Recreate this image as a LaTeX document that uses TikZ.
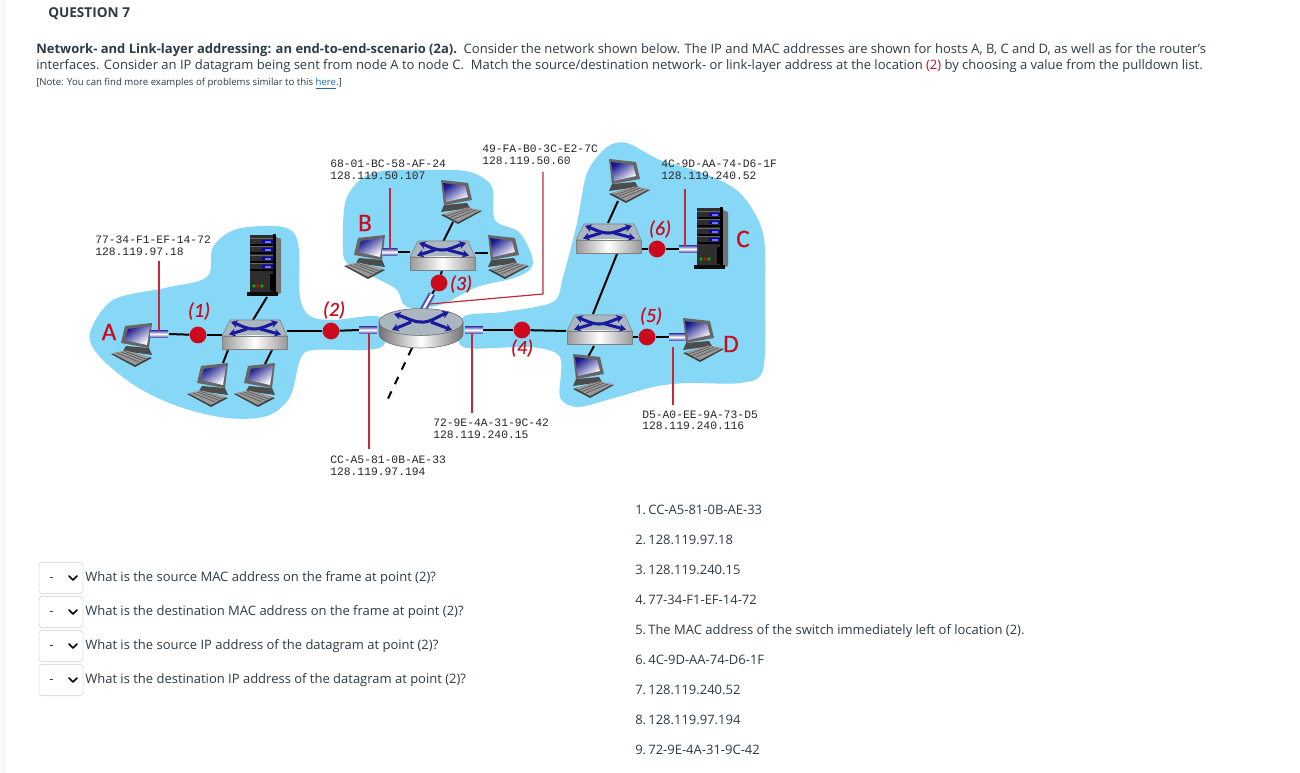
\documentclass[tikz,border=0pt]{standalone}
\usepackage{fontspec}
\setmainfont{Open Sans}
\setmonofont{Liberation Mono}
\newfontfamily\labfont[FakeBold=0.35]{Carlito}
\usetikzlibrary{arrows.meta,shapes.geometric}
\definecolor{blob}{HTML}{87D7F7}
\definecolor{netred}{HTML}{CC0A1E}
\definecolor{leadred}{HTML}{C4283C}
\definecolor{ink}{HTML}{2D3B45}
\definecolor{swblue}{HTML}{1A1A9C}
\definecolor{linkblue}{HTML}{1F6E9E}
\definecolor{swtop}{HTML}{AAB6C0}
\tikzset{
  x=0.75pt,y=-0.75pt,
  cloud/.style={fill=blob,draw=none},
  netdot/.style={circle,fill=netred,draw=none,minimum size=12.6pt,inner sep=0pt},
  link/.style={black,line width=1.5pt},
  dashlink/.style={black,line width=1.5pt,dash pattern=on 6pt off 6pt},
  leader/.style={leadred,line width=0.9pt},
  ifc/.style={draw=none,top color=swblue!75,bottom color=swblue!75,middle color=white,minimum width=13.5pt,minimum height=5pt,inner sep=0pt},
  addr/.style={anchor=base west,inner sep=0pt,font=\ttfamily\fontsize{8.5}{9}\selectfont,text=black!85},
  bigl/.style={text=netred,inner sep=0pt,font=\labfont\fontsize{19}{22}\selectfont},
  numl/.style={text=netred,inner sep=0pt,font=\labfont\itshape\fontsize{15}{18}\selectfont},
  body/.style={anchor=base west,inner sep=0pt,text=ink,font=\fontsize{9.75}{12}\selectfont},
  note/.style={anchor=base west,inner sep=0pt,text=ink,font=\fontsize{7.2}{9}\selectfont},
  selbox/.style={draw=black!12,line width=0.7pt,rounded corners=2.5pt,minimum width=33pt,minimum height=23.5pt,inner sep=0pt,fill=white},
  xarrows/.style={draw=swblue,line width=2.3pt,-{Stealth[length=5pt,width=6pt]}},
  pics/pcx/.style={code={
    \fill[black!70] (-7,2) -- (16,4) -- (19,11) -- (-10,7) -- cycle;
    \fill[black!75] (-22,10) -- (-6,7) -- (19,14) -- (2,23) -- cycle;
    \fill[black!40] (-21,9) -- (-7,6.5) -- (17,13) -- (2,21) -- cycle;
    \draw[black!70,line width=0.4pt] (-16,9) -- (6,18) (-12,8) -- (10,16.5) (-8,7.5) -- (13,15);
    \fill[black!60] (-8,-18) -- (19,-21) -- (16,4) -- (-12,-1) -- cycle;
    \shade[top color=swblue!90!black,bottom color=white,shading angle=35] (-5,-15) -- (17,-18) -- (14,1) -- (-8,-4) -- cycle;
  }},
  pics/swx/.style={code={
    \fill[swtop,draw=black!50,line width=0.4pt] (-24,-15) -- (26,-15) -- (33,1) -- (-32,1) -- cycle;
    \shade[left color=black!40,right color=black!40,middle color=white,draw=black!50,line width=0.4pt] (-32,1) rectangle (33,14);
    \draw[xarrows] (0,-6) .. controls (8,-6) and (14,-10) .. (24,-13);
    \draw[xarrows] (0,-6) .. controls (-8,-6) and (-14,-10) .. (-23,-13);
    \draw[xarrows] (-7,-6) -- (-25,-0.5);
    \draw[xarrows] (6,-6) -- (27,-0.5);
  }},
  pics/srv/.style={code={
    \fill[black!55] (12,-28) -- (17,-26) -- (17,28) -- (12,30) -- cycle;
    \fill[black!82] (-14,-30) rectangle (9,27);
    \fill[black] (9,-31) rectangle (12,29);
    \fill[black!95] (-17,27) rectangle (14,31);
    \foreach \yy in {-23,-15,-6,2}{
      \fill[black] (-14,\yy+2.5) rectangle (9,\yy+4.5);
      \fill[black!60] (-14,\yy-4) rectangle (9,\yy-2.5);
      \fill[blue!75!black] (-2,\yy-1.5) rectangle (9,\yy+1.5);
      \fill[blue!55!white] (1,\yy-1) rectangle (7,\yy+0.8);
    }
    \fill[black] (6,9) rectangle (8.5,26);
    \fill[green!70!black] (-10,21) circle (1.8);
    \fill[red!85!black] (-6,21) circle (1.8);
    \fill[green!70!black] (-2,21) circle (1.8);
  }},
  pics/rtr/.style={code={
    \shade[left color=black!55,right color=black!55,middle color=white,draw=black!60,line width=0.4pt] (-42,0) -- (-42,12) arc[start angle=180,end angle=0,x radius=42,y radius=14] -- (42,0) -- cycle;
    \fill[swtop,draw=black!60,line width=0.4pt] (0,0) ellipse[x radius=42,y radius=13.5];
    \draw[xarrows] (0,0) .. controls (8,1) and (16,-5) .. (28,-10);
    \draw[xarrows] (0,0) .. controls (-8,0) and (-16,-5) .. (-27,-8);
    \draw[xarrows] (-10,0) -- (-29,8);
    \draw[xarrows] (10,0) -- (31,8);
  }}
}
\begin{document}
\begin{tikzpicture}
\useasboundingbox (0,0) rectangle (1300,773);
\fill[white] (0,0) rectangle (1300,773);
\fill[black!3] (0,0) rectangle (6,773);

% clouds
\fill[cloud] plot[smooth cycle,tension=0.55] coordinates {(90,333) (113,300) (165,288) (207,277) (213,247) (237,229) (283,227) (298,243) (300,297) (310,316) (333,320) (380,317) (385,343) (367,350) (313,350) (300,360) (290,397) (267,416) (227,418) (180,407) (137,387) (100,357)};
\fill[cloud] plot[smooth cycle,tension=0.55] coordinates {(343,240) (347,197) (373,173) (430,170) (470,172) (492,187) (495,220) (520,233) (533,263) (517,277) (477,287) (440,305) (407,307) (397,290) (380,280) (347,263)};
\fill[cloud] plot[smooth cycle,tension=0.5] coordinates {(463,317) (503,312) (553,302) (563,277) (577,223) (587,173) (607,147) (627,143) (660,160) (703,173) (740,193) (763,233) (765,297) (763,370) (740,383) (687,383) (653,387) (607,400) (577,407) (560,397) (560,357) (530,347) (463,347)};

% anchors on the devices
\coordinate (s1l) at (222,335); \coordinate (s1r) at (287,331); \coordinate (s1t) at (253,320);
\coordinate (s1a) at (228,350); \coordinate (s1b) at (272,350);
\coordinate (srvL) at (267,297); \coordinate (pc1) at (223,363); \coordinate (pc2) at (265,364);
\coordinate (s2l) at (410,252); \coordinate (s2r) at (475,253); \coordinate (s2t) at (443,242); \coordinate (s2b) at (442,270);
\coordinate (pcM) at (453,222); \coordinate (pcR) at (488,253);
\coordinate (rb) at (412,348); \coordinate (rd) at (385,405);
\coordinate (s3b) at (617,254); \coordinate (s3t) at (608,223); \coordinate (s3r) at (642,249); \coordinate (pcU) at (618,201);
\coordinate (s4t) at (593,314); \coordinate (s4l) at (566,331); \coordinate (s4r) at (633,337); \coordinate (s4b) at (594,346); \coordinate (pcL) at (588,357);

% red points
\node[netdot] (d1) at (198,335) {};
\node[netdot] (d2) at (331,331) {};
\node[netdot] (d3) at (439,283) {};
\node[netdot] (d4) at (522,330) {};
\node[netdot] (d5) at (647,337) {};
\node[netdot] (d6) at (657,249) {};

% interface positions
\coordinate (iA) at (169,334);
\coordinate (iR1) at (359,330);
\coordinate (iB) at (397,252);
\coordinate (iR3) at (432,294);
\coordinate (iR3b) at (423,310);
\coordinate (iR4) at (483,330);
\coordinate (iC) at (679,249);
\coordinate (iD) at (669,337);

% links
\draw[link] (iA) -- (d1); \draw[link] (d1) -- (s1l);
\draw[link] (s1r) -- (d2); \draw[link] (d2) -- (iR1);
\draw[link] (s1t) -- (srvL); \draw[link] (s1a) -- (pc1); \draw[link] (s1b) -- (pc2);
\draw[link] (iB) -- (s2l); \draw[link] (s2r) -- (pcR); \draw[link] (s2t) -- (pcM);
\draw[link] (s2b) -- (d3); \draw[link] (d3) -- (iR3);
\draw[link] (iR4) -- (d4); \draw[link] (d4) -- (s4l);
\draw[link] (s4t) -- (s3b); \draw[link] (s3t) -- (pcU);
\draw[link] (s3r) -- (d6); \draw[link] (d6) -- (iC);
\draw[link] (s4r) -- (d5); \draw[link] (d5) -- (iD);
\draw[link] (s4b) -- (pcL);
\draw[dashlink] (rb) -- (rd);

% slanted interface above the router
\draw[swblue!75,line width=5pt] (iR3b) -- (iR3);
\draw[white,line width=1.8pt] (iR3b) -- (iR3);

% devices
\pic at (254,335) {swx};
\pic at (442,256) {swx};
\pic at (608,239) {swx};
\pic at (599,330) {swx};
\pic at (421,322) {rtr};
\pic at (264,265) {srv};
\pic at (711,238) {srv};
\pic at (133,344) {pcx};
\pic at (209,384) {pcx};
\pic at (256,384) {pcx};
\pic at (366,256) {pcx};
\pic[xscale=-1] at (460,201) {pcx};
\pic[xscale=-1] at (507,256) {pcx};
\pic[xscale=-1] at (628,180) {pcx};
\pic[xscale=-1] at (702,339) {pcx};
\pic[xscale=-1] at (592,375) {pcx};
\node[ifc] (pA) at (159,334) {};
\node[ifc] (pR1) at (368,330) {};
\node[ifc,minimum width=11pt] (pB) at (390,252) {};
\node[ifc] (pR4) at (474,330) {};
\node[ifc] (pC) at (688,249) {};
\node[ifc,minimum width=12pt] (pD) at (677,337) {};

% address labels
\node[addr] (a1) at (95,244) {77-34-F1-EF-14-72};
\node[addr] (a1b) at (95,256) {128.119.97.18};
\node[addr] (a2) at (330,168) {68-01-BC-58-AF-24};
\node[addr] (a2b) at (330,180) {128.119.50.107};
\node[addr] (a3) at (482,153) {49-FA-B0-3C-E2-7C};
\node[addr] (a3b) at (482,165) {128.119.50.60};
\node[addr] (a4) at (661,168) {4C-9D-AA-74-D6-1F};
\node[addr] (a4b) at (661,180) {128.119.240.52};
\node[addr] (a5) at (433,427) {72-9E-4A-31-9C-42};
\node[addr] (a5b) at (433,439) {128.119.240.15};
\node[addr] (a6) at (642,419) {D5-A0-EE-9A-73-D5};
\node[addr] (a6b) at (642,430) {128.119.240.116};
\node[addr] (a7) at (330,464) {CC-A5-81-0B-AE-33};
\node[addr] (a7b) at (330,476) {128.119.97.194};

% leaders
\coordinate (l1) at (159,261); \coordinate (l1e) at (159,331);
\coordinate (l2) at (390,188); \coordinate (l2e) at (390,249);
\coordinate (l3) at (543,172); \coordinate (l3m) at (543,294); \coordinate (l3e) at (430,304);
\coordinate (l4) at (685,189); \coordinate (l4e) at (685,246);
\coordinate (l5) at (472,413); \coordinate (l5e) at (472,333);
\coordinate (l6) at (673,405); \coordinate (l6e) at (673,347);
\coordinate (l7) at (369,449); \coordinate (l7e) at (369,333);
\draw[leader] (l1) -- (l1e);
\draw[leader] (l2) -- (l2e);
\draw[leader] (l3) -- (l3m) -- (l3e);
\draw[leader] (l4) -- (l4e);
\draw[leader] (l5) -- (l5e);
\draw[leader] (l6) -- (l6e);
\draw[leader] (l7) -- (l7e);

% letters
\node[bigl] (nA) at (109,332) {A};
\node[bigl] (nB) at (365,223) {B};
\node[bigl] (nC) at (743,239) {C};
\node[bigl] (nD) at (731,344) {D};
\node[numl] (n1) at (199,311) {(1)};
\node[numl] (n2) at (334,310) {(2)};
\node[numl] (n3) at (461,284) {(3)};
\node[numl] (n4) at (522,348) {(4)};
\node[numl] (n5) at (651,316) {(5)};
\node[numl] (n6) at (660,229) {(6)};

% header text
\node[anchor=base west,inner sep=0pt,text=ink,font=\bfseries\fontsize{10.2}{12}\selectfont] (q) at (48,18) {QUESTION 7};
\node[body] (t1) at (36,54) {\textbf{Network- and Link-layer addressing: an end-to-end-scenario (2a).}\ \ Consider the network shown below. The IP and MAC addresses are shown for hosts A, B, C and D, as well as for the router's};
\node[body] (t2) at (36,70) {interfaces. Consider an IP datagram being sent from node A to node C.\ \ Match the source/destination network- or link-layer address at the location {\color{netred}(2)} by choosing a value from the pulldown list.};
\node[note] (t3) at (36,86) {[Note: You can find more examples of problems similar to this {\color{linkblue}\underline{here}}.]};

% pulldowns
\node[selbox] (s1) at (61,578) {};
\node[selbox] (s2) at (61,612) {};
\node[selbox] (s3) at (61,646) {};
\node[selbox] (s4) at (61,680) {};
\foreach \yy in {578,612,646,680}{
  \node[body] at (49,\yy+3) {-};
  \draw[black,line width=1.1pt,line cap=round,line join=round] (69,\yy-2) -- (73,\yy+2) -- (77,\yy-2);
}
\node[body] (w1) at (85,581) {What is the source MAC address on the frame at point (2)?};
\node[body] (w2) at (85,615) {What is the destination MAC address on the frame at point (2)?};
\node[body] (w3) at (85,649) {What is the source IP address of the datagram at point (2)?};
\node[body] (w4) at (85,683) {What is the destination IP address of the datagram at point (2)?};

% answers
\node[body] (o1) at (635,514) {1.\,CC-A5-81-0B-AE-33};
\node[body] (o2) at (635,544) {2.\,128.119.97.18};
\node[body] (o3) at (635,574) {3.\,128.119.240.15};
\node[body] (o4) at (635,604) {4.\,77-34-F1-EF-14-72};
\node[body] (o5) at (635,634) {5.\,The MAC address of the switch immediately left of location (2).};
\node[body] (o6) at (635,664) {6.\,4C-9D-AA-74-D6-1F};
\node[body] (o7) at (635,694) {7.\,128.119.240.52};
\node[body] (o8) at (635,724) {8.\,128.119.97.194};
\node[body] (o9) at (635,754) {9.\,72-9E-4A-31-9C-42};
\end{tikzpicture}
\end{document}
